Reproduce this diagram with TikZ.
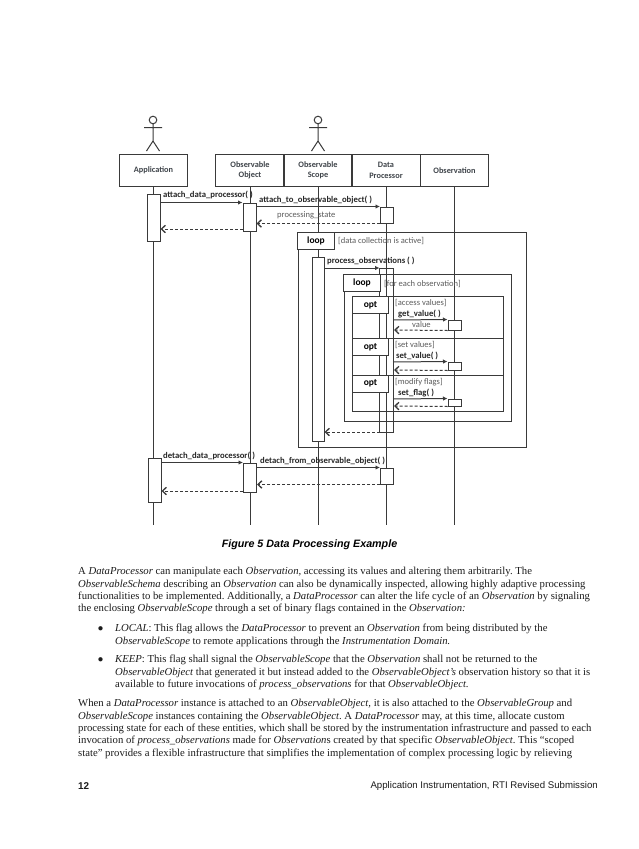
\documentclass[tikz,border=0pt]{standalone}
\usepackage{fontspec}
\setmainfont{Liberation Serif}
\newfontfamily\labelfont{Carlito}
\newfontfamily\arialfont{Liberation Sans}
\usetikzlibrary{arrows.meta}
\frenchspacing
\definecolor{linecol}{HTML}{3A3A3A}
\definecolor{greytext}{HTML}{5C5C5C}
\definecolor{headtext}{HTML}{3F444A}
\definecolor{bodytext}{HTML}{1C1C1C}
\def\outerloop{(298,232) rectangle (526,447)}
\def\innerloop{(344,274) rectangle (511,421)}
\def\optframe{(352,296) rectangle (503,411)}
\def\optrowA{(352,338) -- (503,338)}
\def\optrowB{(352,375) -- (503,375)}
\def\actor#1{(#1,120) circle (3.8) (#1,123.8) -- (#1,141) (#1-9,127.7) -- (#1+9,127.7) (#1-6.5,151) -- (#1,141) -- (#1+6.5,151)}
\tikzset{
  head/.style={draw=linecol,line width=1,minimum width=68.5,minimum height=32.5,inner sep=0,align=center,
    text=headtext,font=\labelfont\bfseries\fontsize{8.3}{10.4}\selectfont},
  bar/.style={draw=linecol,line width=1,fill=white,minimum width=13,inner sep=0},
  tab/.style={draw=linecol,line width=1,fill=white,minimum width=36.5,minimum height=17,inner sep=0,
    text=black,font=\labelfont\bfseries\fontsize{9.5}{11}\selectfont},
  msg/.style={inner sep=0,anchor=west,text=black!85,font=\labelfont\bfseries\fontsize{8.7}{10}\selectfont},
  guard/.style={inner sep=0,anchor=west,text=greytext,font=\labelfont\fontsize{8.55}{10}\selectfont},
  life/.style={draw=linecol,line width=1},
  call/.style={draw=linecol,line width=1,-{Latex[length=4.5pt,width=4.5pt]}},
  reply/.style={draw=linecol,line width=1,dash pattern=on 3pt off 2pt,-{Straight Barb[length=4pt,width=7.5pt,line width=1.3pt]}},
  para/.style={inner sep=0,anchor=north west,align=left,text=bodytext,font=\fontsize{10.7}{12.45}\selectfont}
}
\begin{document}
\begin{tikzpicture}[x=1pt,y=-1pt]
  \useasboundingbox (0,0) rectangle (638,849);
  \fill[white] (0,0) rectangle (638,849);

  \draw[life] \actor{153} \actor{318};

  \node[head] (application) at (153.5,170.5) {Application};
  \node[head] (object) at (250,170.5) {Observable\\Object};
  \node[head] (scope) at (318,170.5) {Observable\\Scope};
  \node[head] (processor) at (386,170.5) {Data\\Processor};
  \node[head] (observation) at (454.5,170.5) {Observation};

  \coordinate (applicationend) at (153.5,525);
  \coordinate (objectend) at (250,525);
  \coordinate (scopeend) at (318,525);
  \coordinate (processorend) at (386,525);
  \coordinate (observationend) at (454.5,525);
  \draw[life] (application) -- (applicationend);
  \draw[life] (object) -- (objectend);
  \draw[life] (scope) -- (scopeend);
  \draw[life] (processor) -- (processorend);
  \draw[life] (observation) -- (observationend);

  \draw[life] \outerloop;
  \draw[life] \innerloop;
  \draw[life] \optframe \optrowA \optrowB;

  % attach
  \node[bar,minimum height=47] (appbarA) at (153.5,217.5) {};
  \node[bar,minimum height=28] (objbarA) at (249.5,217) {};
  \node[bar,minimum height=16] (procbarA) at (387,215) {};
  \draw[call] (appbarA.east |- objbarA.north) -- (objbarA.north west);
  \draw[call] (objbarA.east |- procbarA.north) -- (procbarA.north west);
  \draw[reply] (procbarA.south west) -- (objbarA.east |- procbarA.south);
  \draw[reply] (objbarA.west |- 0,229) -- (appbarA.east |- 0,229);
  \node[msg] (attachproc) at (163,195) {attach\_data\_processor( )};
  \node[msg] (attachobj) at (259,200) {attach\_to\_observable\_object( )};
  \node[guard] (state) at (277,215) {processing\_state};

  % collection
  \node[bar,minimum width=12,minimum height=184] (scopebar) at (318,349) {};
  \draw[life] (379.5,268) rectangle (393,432);
  \coordinate (procbarBtl) at (379.5,268);
  \coordinate (procbarBbl) at (379.5,432);
  \draw[call] (scopebar.east |- procbarBtl) -- (procbarBtl);
  \draw[reply] (procbarBbl) -- (scopebar.east |- procbarBbl);

  \node[tab] (outertab) at (316,240.5) {loop};
  \node[tab] (innertab) at (362,282.5) {loop};
  \node[tab] (opttabA) at (370.5,305) {opt};
  \node[tab] (opttabB) at (370.5,347) {opt};
  \node[tab] (opttabC) at (370.5,383.5) {opt};
  \node[guard] (outerguard) at (338,241) {[data collection is active]};
  \node[guard] (innerguard) at (384,284) {[for each observation]};
  \node[msg] (processobs) at (327,261) {process\_observations ( )};

  % per observation
  \node[bar,minimum height=10] (obsbarA) at (454.5,325) {};
  \node[bar,minimum height=8] (obsbarB) at (454.5,366) {};
  \node[bar,minimum height=7] (obsbarC) at (454.5,402.5) {};
  \coordinate (optleftA) at (393,320);
  \coordinate (optleftB) at (393,362);
  \coordinate (optleftC) at (393,399);
  \coordinate (optbackA) at (394,330);
  \coordinate (optbackB) at (394,370);
  \coordinate (optbackC) at (394,406);
  \draw[call] (optleftA) -- (obsbarA.north west);
  \draw[call] (optleftB) -- (obsbarB.north west);
  \draw[call] (optleftC) -- (obsbarC.north west);
  \draw[reply] (obsbarA.south west) -- (optbackA);
  \draw[reply] (obsbarB.south west) -- (optbackB);
  \draw[reply] (obsbarC.south west) -- (optbackC);
  \node[guard] (guardA) at (395,303) {[access values]};
  \node[msg] (getvalue) at (398,314) {get\_value( )};
  \node[guard] (value) at (412,325) {value};
  \node[guard] (guardB) at (395,345) {[set values]};
  \node[msg] (setvalue) at (396,356) {set\_value( )};
  \node[guard] (guardC) at (395,382) {[modify flags]};
  \node[msg] (setflag) at (398,393) {set\_flag( )};

  % detach
  \node[bar,minimum height=44] (appbarB) at (154.5,480) {};
  \node[bar,minimum height=29] (objbarB) at (250,477.5) {};
  \node[bar,minimum height=16] (procbarC) at (387,476) {};
  \draw[call] (appbarB.east |- objbarB.north) -- (objbarB.north west);
  \draw[call] (objbarB.east |- procbarC.north) -- (procbarC.north west);
  \draw[reply] (procbarC.south west) -- (objbarB.east |- procbarC.south);
  \draw[reply] (objbarB.west |- 0,491) -- (appbarB.east |- 0,491);
  \node[msg] (detachproc) at (163,456) {detach\_data\_processor( )};
  \node[msg] (detachobj) at (260,461) {detach\_from\_observable\_object( )};

  \node[inner sep=0,text=black,font=\arialfont\bfseries\itshape\fontsize{10.7}{12}\selectfont] (caption) at (309.5,545) {Figure 5 Data Processing Example};

  \node[para] (paraA) at (78,567) {A \textit{DataProcessor} can manipulate each \textit{Observation,} accessing its values and altering them arbitrarily. The\\
    \textit{ObservableSchema} describing an \textit{Observation} can also be dynamically inspected, allowing highly adaptive processing\\
    functionalities to be implemented. Additionally, a \textit{DataProcessor} can alter the life cycle of an \textit{Observation} by signaling\\
    the enclosing \textit{ObservableScope} through a set of binary flags contained in the \textit{Observation:}};
  \node[para,anchor=center] (bulletA) at (100.5,629) {$\bullet$};
  \node[para] (paraB) at (115,624) {\textit{LOCAL}: This flag allows the \textit{DataProcessor} to prevent an \textit{Observation} from being distributed by the\\
    \textit{ObservableScope} to remote applications through the \textit{Instrumentation Domain.}};
  \node[para,anchor=center] (bulletB) at (100.5,660) {$\bullet$};
  \node[para] (paraC) at (115,655) {\textit{KEEP}: This flag shall signal the \textit{ObservableScope} that the \textit{Observation} shall not be returned to the\\
    \textit{ObservableObject} that generated it but instead added to the \textit{ObservableObject’s} observation history so that it is\\
    available to future invocations of \textit{process\_observations} for that \textit{ObservableObject.}};
  \node[para] (paraD) at (78,699) {When a \textit{DataProcessor} instance is attached to an \textit{ObservableObject,} it is also attached to the \textit{ObservableGroup} and\\
    \textit{ObservableScope} instances containing the \textit{ObservableObject}. A \textit{DataProcessor} may, at this time, allocate custom\\
    processing state for each of these entities, which shall be stored by the instrumentation infrastructure and passed to each\\
    invocation of \textit{process\_observations} made for \textit{Observation}s created by that specific \textit{ObservableObject}. This “scoped\\
    state” provides a flexible infrastructure that simplifies the implementation of complex processing logic by relieving};

  \node[inner sep=0,anchor=west,text=bodytext,font=\arialfont\bfseries\fontsize{9.9}{11}\selectfont] (pagenumber) at (78,786) {12};
  \node[inner sep=0,anchor=east,text=bodytext,font=\arialfont\fontsize{9.65}{11}\selectfont] (footer) at (598,786) {Application Instrumentation, RTI Revised Submission};
\end{tikzpicture}
\end{document}
